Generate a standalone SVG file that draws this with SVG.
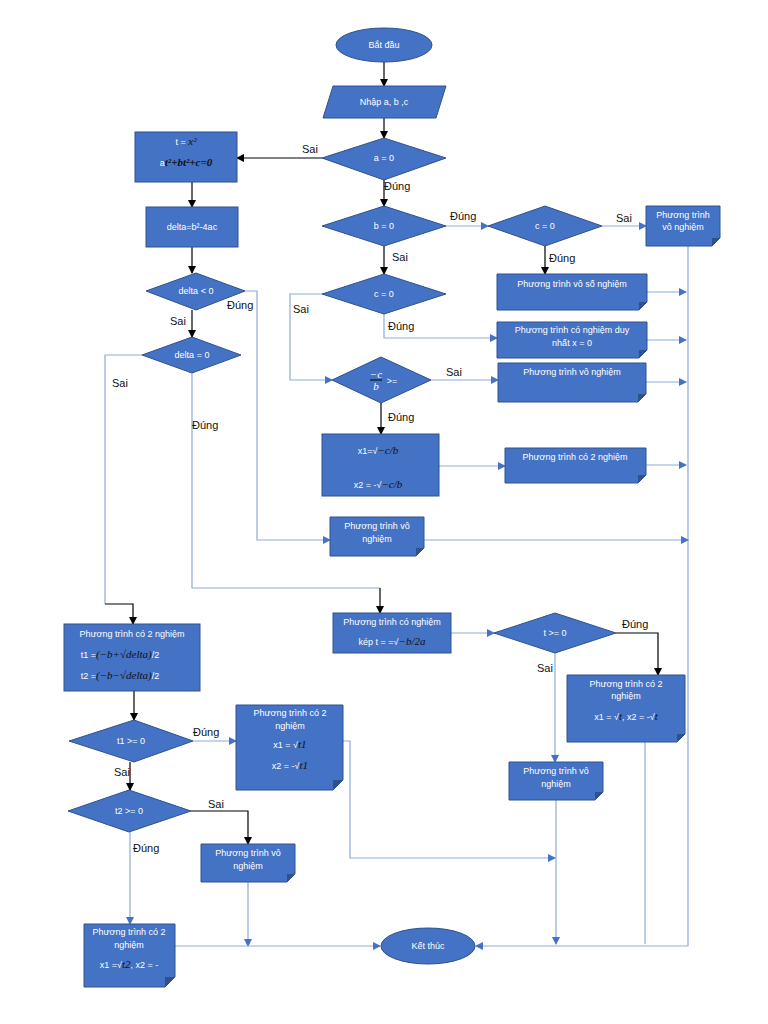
<svg xmlns="http://www.w3.org/2000/svg" width="768" height="1024" viewBox="0 0 768 1024">
<style>
.n{fill:#4472C4;stroke:#2F528F;stroke-width:1}
.f{fill:#2F528F}
.t{fill:#fff;font-family:"Liberation Sans",Arial,sans-serif;font-size:9px;text-anchor:middle}
.m{font-family:"Liberation Serif",serif;font-style:italic;font-size:11px}
.lb{fill:#111;font-family:"Liberation Sans",Arial,sans-serif;font-size:11px}
.k{fill:none;stroke:#000;stroke-width:1.2}
.b{fill:none;stroke:#8EAADB;stroke-width:1.2}
</style>
<defs>
<marker id="ak" markerWidth="8" markerHeight="8" refX="7" refY="4" orient="auto" markerUnits="userSpaceOnUse"><path d="M0,0 L8,4 L0,8z" fill="#000"/></marker>
<marker id="ab" markerWidth="8" markerHeight="8" refX="7" refY="4" orient="auto" markerUnits="userSpaceOnUse"><path d="M0,0 L8,4 L0,8z" fill="#4472C4"/></marker>
</defs>
<rect width="768" height="1024" fill="#fff"/>
<g id="connectors">
<path class="k" d="M384,62V86" marker-end="url(#ak)"/>
<path class="k" d="M384,118V138" marker-end="url(#ak)"/>
<path class="k" d="M322,158H237" marker-end="url(#ak)"/>
<path class="k" d="M384,180V206" marker-end="url(#ak)"/>
<path class="b" d="M446,226H488" marker-end="url(#ab)"/>
<path class="b" d="M602,226H646" marker-end="url(#ab)"/>
<path class="k" d="M545,246V274" marker-end="url(#ak)"/>
<path class="k" d="M384,246V274" marker-end="url(#ak)"/>
<path class="b" d="M322,294H290V380H332" marker-end="url(#ab)"/>
<path class="b" d="M384,314V338H497" marker-end="url(#ab)"/>
<path class="b" d="M431,380H498" marker-end="url(#ab)"/>
<path class="k" d="M381,403V434" marker-end="url(#ak)"/>
<path class="b" d="M439,466H505" marker-end="url(#ab)"/>
<path class="b" d="M688,246V946H476" marker-end="url(#ab)"/>
<path class="b" d="M647,292H686" marker-end="url(#ab)"/>
<path class="b" d="M647,340H686" marker-end="url(#ab)"/>
<path class="b" d="M646,382H686" marker-end="url(#ab)"/>
<path class="b" d="M646,465H686" marker-end="url(#ab)"/>
<path class="b" d="M424,540H688" marker-end="url(#ab)"/>
<path class="b" d="M645,742V944"/>
<path class="b" d="M556,800V944" marker-end="url(#ab)"/>
<path class="b" d="M343,741H350V858H555" marker-end="url(#ab)"/>
<path class="b" d="M248,882V946" marker-end="url(#ab)"/>
<path class="b" d="M175,946H380" marker-end="url(#ab)"/>
<path class="k" d="M192,182V207" marker-end="url(#ak)"/>
<path class="k" d="M192,247V273" marker-end="url(#ak)"/>
<path class="b" d="M245,291H257V540H330" marker-end="url(#ab)"/>
<path class="k" d="M192,310V337" marker-end="url(#ak)"/>
<path class="b" d="M142,355H105V604"/>
<path class="k" d="M105,604H133V624" marker-end="url(#ak)"/>
<path class="b" d="M192,373V588H380"/>
<path class="k" d="M380,588V613" marker-end="url(#ak)"/>
<path class="b" d="M451,633H494" marker-end="url(#ab)"/>
<path class="k" d="M616,633H658V675" marker-end="url(#ak)"/>
<path class="b" d="M555,653V762" marker-end="url(#ab)"/>
<path class="k" d="M134,691V720" marker-end="url(#ak)"/>
<path class="b" d="M193,741H236" marker-end="url(#ab)"/>
<path class="k" d="M130,762V790" marker-end="url(#ak)"/>
<path class="k" d="M191,811H248V844" marker-end="url(#ak)"/>
<path class="b" d="M130,832V924" marker-end="url(#ab)"/>
<text class="lb" x="302" y="153">Sai</text>
<text class="lb" x="384" y="190">Đúng</text>
<text class="lb" x="450" y="220">Đúng</text>
<text class="lb" x="616" y="222">Sai</text>
<text class="lb" x="549" y="262">Đúng</text>
<text class="lb" x="392" y="261">Sai</text>
<text class="lb" x="293" y="313">Sai</text>
<text class="lb" x="388" y="330">Đúng</text>
<text class="lb" x="446" y="376">Sai</text>
<text class="lb" x="388" y="421">Đúng</text>
<text class="lb" x="227" y="309">Đúng</text>
<text class="lb" x="170" y="325">Sai</text>
<text class="lb" x="112" y="387">Sai</text>
<text class="lb" x="192" y="429">Đúng</text>
<text class="lb" x="622" y="628">Đúng</text>
<text class="lb" x="537" y="672">Sai</text>
<text class="lb" x="193" y="736">Đúng</text>
<text class="lb" x="114" y="776">Sai</text>
<text class="lb" x="208" y="808">Sai</text>
<text class="lb" x="133" y="852">Đúng</text>
</g>
<g id="start"><ellipse class="n" cx="384" cy="45" rx="48" ry="17"/><text class="t" x="384" y="48">Bắt đầu</text></g>
<g id="input"><path class="n" d="M333,86H446L436,118H323Z"/><text class="t" x="384" y="105">Nhập a, b ,c</text></g>
<g id="a0"><path class="n" d="M322,158L384,138L446,158L384,180Z"/><text class="t" x="384" y="161">a = 0</text></g>
<g id="b0"><path class="n" d="M322,226L384,206L446,226L384,246Z"/><text class="t" x="384" y="229">b = 0</text></g>
<g id="c0a"><path class="n" d="M322,294L384,274L446,294L384,314Z"/><text class="t" x="384" y="297">c = 0</text></g>
<g id="cb"><path class="n" d="M332,380L381,357L431,380L381,403Z"/><text class="t" x="376" y="378"><tspan class="m">−c</tspan></text><line x1="370" y1="380" x2="382" y2="380" stroke="#000"/><text class="t" x="376" y="390"><tspan class="m">b</tspan></text><text class="t" x="392" y="384">&gt;=</text></g>
<g id="x12"><rect class="n" x="322" y="434" width="117" height="62"/><text class="t" x="378" y="454">x1=√<tspan class="m" fill="#111">−c/b</tspan></text><text class="t" x="378" y="488">x2 = -√<tspan class="m" fill="#111">−c/b</tspan></text></g>
<g id="tx"><rect class="n" x="135" y="132" width="102" height="50"/><text class="t" x="186" y="145">t = <tspan class="m" fill="#111">x²</tspan></text><text class="t" x="186" y="166">a<tspan class="m" fill="#111" font-weight="bold">t²+bt²+c=0</tspan></text></g>
<g id="delta"><rect class="n" x="146" y="207" width="92" height="40"/><text class="t" x="192" y="230">delta=b²-4ac</text></g>
<g id="dlt"><path class="n" d="M146,291L196,273L245,291L196,310Z"/><text class="t" x="196" y="294">delta &lt; 0</text></g>
<g id="deq"><path class="n" d="M142,355L192,337L241,355L192,373Z"/><text class="t" x="192" y="358">delta = 0</text></g>
<g id="c0b"><path class="n" d="M488,226L545,206L602,226L545,246Z"/><text class="t" x="545" y="229">c = 0</text></g>
<g id="vn1"><path class="n" d="M646,206H720V238L712,246H646Z"/><path class="f" d="M720,238L712,246L712,238Z"/><text class="t" x="683" y="218">Phương trình</text><text class="t" x="683" y="230">vô nghiệm</text></g>
<g id="vsn"><path class="n" d="M497,274H647V302L639,310H497Z"/><path class="f" d="M647,302L639,310L639,302Z"/><text class="t" x="572" y="287">Phương trình vô số nghiệm</text></g>
<g id="dn"><path class="n" d="M497,322H647V350L639,358H497Z"/><path class="f" d="M647,350L639,358L639,350Z"/><text class="t" x="572" y="333">Phương trình có nghiệm duy</text><text class="t" x="572" y="346">nhất x = 0</text></g>
<g id="vn2"><path class="n" d="M498,363H646V394L638,402H498Z"/><path class="f" d="M646,394L638,402L638,394Z"/><text class="t" x="572" y="375">Phương trình vô nghiệm</text></g>
<g id="hn1"><path class="n" d="M505,448H646V475L638,483H505Z"/><path class="f" d="M646,475L638,483L638,475Z"/><text class="t" x="575" y="460">Phương trình có 2 nghiệm</text></g>
<g id="vn3"><path class="n" d="M330,517H424V548L416,556H330Z"/><path class="f" d="M424,548L416,556L416,548Z"/><text class="t" x="377" y="529">Phương trình vô</text><text class="t" x="377" y="542">nghiệm</text></g>
<g id="kep"><rect class="n" x="333" y="613" width="118" height="40"/><text class="t" x="392" y="625">Phương trình có nghiệm</text><text class="t" x="392" y="645">kép t = =√<tspan class="m" fill="#111">−b/2a</tspan></text></g>
<g id="tge"><path class="n" d="M494,633L555,613L616,633L555,653Z"/><text class="t" x="555" y="636">t &gt;= 0</text></g>
<g id="hn2"><path class="n" d="M567,675H685V734L677,742H567Z"/><path class="f" d="M685,734L677,742L677,734Z"/><text class="t" x="626" y="687">Phương trình có 2</text><text class="t" x="626" y="699">nghiệm</text><text class="t" x="626" y="720">x1 = √<tspan class="m" fill="#111">t</tspan>, x2 = -√<tspan class="m" fill="#111">t</tspan></text></g>
<g id="vn4"><path class="n" d="M509,762H603V792L595,800H509Z"/><path class="f" d="M603,792L595,800L595,792Z"/><text class="t" x="556" y="774">Phương trình vô</text><text class="t" x="556" y="787">nghiệm</text></g>
<g id="t12"><rect class="n" x="64" y="624" width="136" height="67"/><text class="t" x="132" y="637">Phương trình có 2 nghiệm</text><text class="t" x="120" y="658">t1 =<tspan class="m" fill="#111">(−b+√delta)</tspan>/2</text><text class="t" x="120" y="679">t2 =<tspan class="m" fill="#111">(−b−√delta)</tspan>/2</text></g>
<g id="t1ge"><path class="n" d="M69,741L134,720L193,741L134,762Z"/><text class="t" x="131" y="744">t1 &gt;= 0</text></g>
<g id="hn3"><path class="n" d="M236,705H343V780L333,790H236Z"/><path class="f" d="M343,780L333,790L333,780Z"/><text class="t" x="290" y="716">Phương trình có 2</text><text class="t" x="290" y="729">nghiệm</text><text class="t" x="290" y="748">x1 = √<tspan class="m" fill="#111">t1</tspan></text><text class="t" x="290" y="769">x2 = -√<tspan class="m" fill="#111">t1</tspan></text></g>
<g id="t2ge"><path class="n" d="M68,811L129,790L191,811L129,832Z"/><text class="t" x="129" y="814">t2 &gt;= 0</text></g>
<g id="vn5"><path class="n" d="M201,844H295V874L287,882H201Z"/><path class="f" d="M295,874L287,882L287,874Z"/><text class="t" x="248" y="856">Phương trình vô</text><text class="t" x="248" y="869">nghiệm</text></g>
<g id="hn4"><path class="n" d="M84,924H175V977L165,987H84Z"/><path class="f" d="M175,977L165,987L165,977Z"/><text class="t" x="129" y="935">Phương trình có 2</text><text class="t" x="129" y="948">nghiệm</text><text class="t" x="129" y="968">x1 =√<tspan class="m" fill="#111">t2</tspan>, x2 = -</text></g>
<g id="end"><ellipse class="n" cx="428" cy="946" rx="47" ry="18"/><text class="t" x="428" y="949">Kết thúc</text></g>
</svg>
